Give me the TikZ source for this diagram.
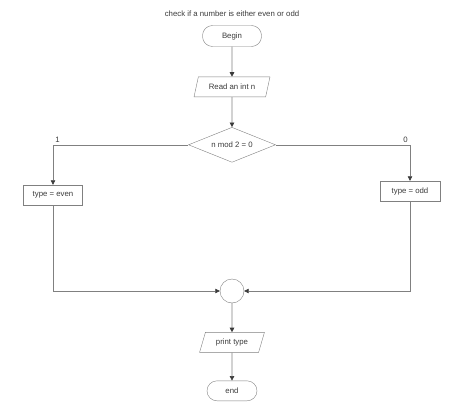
\documentclass[tikz,border=0pt]{standalone}
\usepackage{fontspec}
\setmainfont{Liberation Sans}
\usetikzlibrary{arrows.meta,positioning,shapes.geometric}
\definecolor{ln}{HTML}{808080}
\definecolor{tx}{HTML}{3A3A3A}
\tikzset{
  term/.style  ={draw=ln,rounded corners=10pt,align=center,text=tx,
                 minimum width=59pt,minimum height=21pt,inner sep=1pt},
  io/.style    ={draw=ln,trapezium,trapezium left angle=68,trapezium right angle=112,
                 trapezium stretches=true,text=tx,minimum height=20pt,inner sep=1pt},
  proc/.style  ={draw=ln,align=center,text=tx,minimum width=59pt,
                 minimum height=20pt,inner sep=1pt},
  dec/.style   ={draw=ln,diamond,shape aspect=2.5,text=tx,minimum width=87pt,
                 minimum height=35pt,inner sep=1pt},
  jn/.style    ={draw=ln,circle,minimum size=24pt,inner sep=0pt},
  ar/.style    ={draw=ln,semithick,-{Triangle[length=4.5pt,width=4.5pt,color=tx]}},
  lbl/.style   ={text=tx,inner sep=2pt},
}

\begin{document}
\begin{tikzpicture}[x=1pt,y=-1pt,font=\fontsize{7.8}{9}\selectfont,node distance=30pt]
\useasboundingbox (0,0) rectangle (474,415);
\node[lbl] (T) at (232,14) {check if a number is either even or odd};
\node[term] (B) at (232,36) {Begin};
\node[io,minimum width=76pt,below=of B] (RD) {Read an int n};
\node[dec,below=of RD] (DEC) {n mod 2 = 0};
\node[proc] (EV) at (53,195) {type = even};
\node[proc,minimum width=60pt] (OD) at (410,191) {type = odd};
\node[jn] (J) at (232,291) {};
\node[io,minimum width=65pt,below=29pt of J] (PR) {print type};
\node[term,minimum width=50pt,minimum height=20pt,below=28pt of PR] (E) {end};
\draw[ar] (B)--(RD); \draw[ar] (RD)--(DEC);
\draw[ar] (DEC.west) -| node[lbl,pos=0.5,above right] {1} (EV);
\draw[ar] (DEC.east) -| node[lbl,pos=0.5,above left] {0} (OD);
\draw[ar] (EV) |- (J); \draw[ar] (OD) |- (J);
\draw[ar] (J)--(PR); \draw[ar] (PR)--(E);
\end{tikzpicture}
\end{document}
